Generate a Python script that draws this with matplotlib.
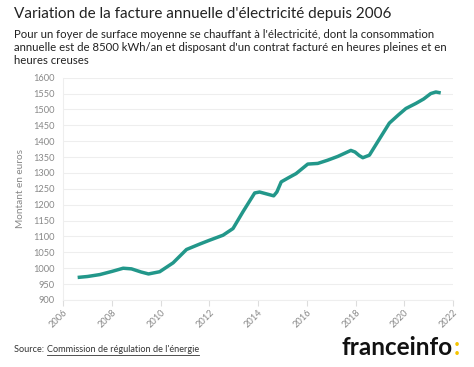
import matplotlib
matplotlib.use("Agg")
import matplotlib.pyplot as plt
from matplotlib.lines import Line2D

plt.rcParams['font.family'] = ['Lato', 'DejaVu Sans']

# Data
years = [2006.59, 2007.0, 2007.5, 2008.0, 2008.46, 2008.8, 2009.2, 2009.5, 2009.96,
         2010.51, 2011.06, 2011.6, 2012.0, 2012.56, 2012.97, 2013.38, 2013.86, 2014.06,
         2014.35, 2014.64, 2014.77, 2014.95, 2015.25, 2015.56, 2016.04, 2016.45,
         2016.85, 2017.27, 2017.81, 2017.98, 2018.15, 2018.3, 2018.57, 2019.04,
         2019.39, 2019.75, 2020.07, 2020.48, 2020.8, 2021.09, 2021.3, 2021.5]
amounts = [971, 974, 980, 990, 1000, 998, 988, 982, 989,
           1017, 1059, 1076, 1088, 1104, 1125, 1178, 1237, 1240,
           1234, 1228, 1240, 1272, 1285, 1298, 1328, 1330,
           1340, 1352, 1371, 1366, 1355, 1348, 1356, 1414,
           1457, 1482, 1503, 1519, 1533, 1550, 1555, 1552]

yticks = list(range(900, 1601, 50))
xticks = list(range(2006, 2023, 2))

title = "Variation de la facture annuelle d'électricité depuis 2006"
subtitle = ("Pour un foyer de surface moyenne se chauffant à l'électricité, dont la consommation\n"
            "annuelle est de 8500 kWh/an et disposant d'un contrat facturé en heures pleines et en\n"
            "heures creuses")

fig = plt.figure(figsize=(4.74, 3.67), dpi=100)
ax = fig.add_axes([0.1335, 0.1826, 0.822, 0.6057])

ax.plot(years, amounts, color='#22978a', lw=2.5, solid_joinstyle='round',
        solid_capstyle='butt', zorder=3)

ax.set_xlim(2006, 2022)
ax.set_ylim(900, 1600)
ax.set_yticks(yticks)
ax.set_xticks(xticks)
ax.set_yticklabels([str(v) for v in yticks])
ax.set_xticklabels([str(v) for v in xticks], rotation=45, ha='right',
                   rotation_mode='anchor')
ax.grid(axis='y', color='#eeeeee', lw=0.8)
ax.set_axisbelow(True)
for s in ['top', 'right']:
    ax.spines[s].set_visible(False)
ax.spines['left'].set_color('#eeeeee')
ax.spines['bottom'].set_color('#eeeeee')
ax.tick_params(axis='y', length=0, labelsize=6.7, labelcolor='#888888', pad=6)
ax.tick_params(axis='x', length=4, color='#dddddd', labelsize=6.7,
               labelcolor='#888888', pad=2)
ax.set_ylabel("Montant en euros", fontsize=7.2, color='#888888', labelpad=6)

fig.text(0.030, 0.962, title, fontsize=11.0, color='#222222', va='center')
fig.text(0.030, 0.920, subtitle, fontsize=8.2, color='#222222', va='top',
         linespacing=1.18)

src1 = fig.text(0.030, 0.048, "Source: ", fontsize=6.6, color='#333333', va='center')
fig.canvas.draw()
r = fig.canvas.get_renderer()
bb = src1.get_window_extent(r)
x2 = bb.x1 / fig.bbox.width
src2 = fig.text(x2, 0.048, "Commission de régulation de l'énergie", fontsize=6.6,
                color='#333333', va='center')
bb2 = src2.get_window_extent(r)
fig.add_artist(Line2D([bb2.x0 / fig.bbox.width, bb2.x1 / fig.bbox.width],
                      [bb2.y0 / fig.bbox.height - 0.002] * 2,
                      transform=fig.transFigure, color='#333333', lw=0.6))

logo = fig.text(0.720, 0.052, "franceinfo", fontsize=17.5, color='#111111',
                va='center', fontweight='bold')
bbl = logo.get_window_extent(r)
fig.text(bbl.x1 / fig.bbox.width + 0.003, 0.052, ":", fontsize=17.5,
         color='#f5c400', va='center', fontweight='bold')

fig.savefig("out.png", dpi=100, facecolor='white')
